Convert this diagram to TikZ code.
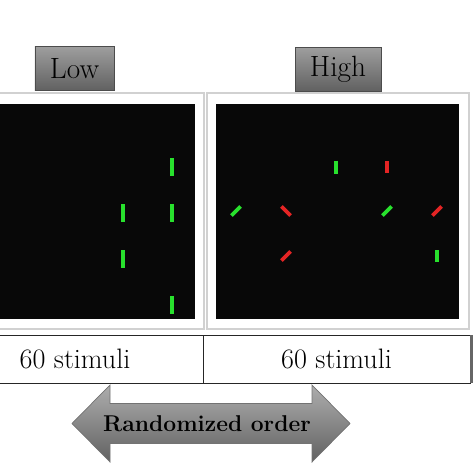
\documentclass[tikz,border=0pt]{standalone}
\usepackage{tikz}
\usetikzlibrary{positioning,shadows}
\definecolor{stimGreen}{RGB}{40,225,45}
\definecolor{stimRed}{RGB}{228,36,36}
\definecolor{screenBlack}{RGB}{8,8,8}

\begin{document}
\begin{tikzpicture}[x=.03cm,y=-.03cm,line width=.8pt]
\useasboundingbox (0,0) rectangle (474,474);
\tikzstyle{every node}=[inner sep=0pt,outer sep=0pt]
\tikzstyle{condbox}=[draw=black!70,line width=.6pt,top color=black!38,bottom color=black!62,minimum height=1.32cm]
\tikzstyle{bar}=[line width=3.8pt]
\tikzstyle{thinbar}=[line width=3.2pt]

% screens
\draw (99,211) node[draw=black!18,line width=1.4pt,fill=white,minimum width=6.3cm,minimum height=7.08cm] (lowframe) {};
\draw (338,211) node[draw=black!18,line width=1.4pt,fill=white,minimum width=7.86cm,minimum height=7.08cm] (highframe) {};
\draw (94.5,211.5) node[fill=screenBlack,minimum width=6.03cm,minimum height=6.45cm] (lowscreen) {};
\draw (337.5,211.5) node[fill=screenBlack,minimum width=7.29cm,minimum height=6.45cm] (highscreen) {};

% condition labels
\draw (74.5,68.5) node[condbox,minimum width=2.37cm] (low) {\fontsize{25}{29}\selectfont Low};
\draw (338,69) node[condbox,minimum width=2.58cm] (high) {\fontsize{25}{29}\selectfont High};

% low: green vertical bars
\draw[bar,stimGreen] (172,158) -- (172,176);
\draw[bar,stimGreen] (172,204) -- (172,222);
\draw[bar,stimGreen] (123,204) -- (123,222);
\draw[bar,stimGreen] (123,250) -- (123,268);
\draw[bar,stimGreen] (172,296) -- (172,314);

% high: mixed bars
\draw[thinbar,stimGreen] (336,160.5) -- (336,173.5);
\draw[thinbar,stimRed] (387,161) -- (387,173);
\draw[thinbar,stimGreen] (231.4,215.6) -- (240.6,206.4);
\draw[thinbar,stimRed] (281.4,206.4) -- (290.6,215.6);
\draw[thinbar,stimGreen] (382.4,215.6) -- (391.6,206.4);
\draw[thinbar,stimRed] (432.4,215.6) -- (441.6,206.4);
\draw[thinbar,stimRed] (281.4,260.6) -- (290.6,251.4);
\draw[thinbar,stimGreen] (437,250) -- (437,262);

% stimulus counts
\tikzstyle{every node}=[inner sep=0pt,outer sep=0pt,draw=black!85,line width=.8pt,fill=white,minimum height=1.44cm]
\draw (75,359) node[minimum width=7.68cm] (lowcount) {\fontsize{24}{28}\selectfont 60 stimuli};
\draw (336.5,359) node[minimum width=8.01cm] (highcount) {\fontsize{24}{28}\selectfont 60 stimuli};
\draw[black!60,line width=3pt] (highcount.north east) ++(1.5,0) -- ++(0,48);

% randomized order
\tikzstyle{every node}=[]
\shade[top color=black!32,bottom color=black!62,draw=black!55,line width=.6pt]
  (72,423.5) -- (110,385) -- (110,403.5) -- (312,403.5) -- (312,385) -- (350,423.5)
  -- (312,462) -- (312,443.5) -- (110,443.5) -- (110,462) -- cycle;
\draw (207,423.5) node (order) {\fontsize{19.5}{23}\selectfont\bfseries Randomized order};

\end{tikzpicture}
\end{document}
